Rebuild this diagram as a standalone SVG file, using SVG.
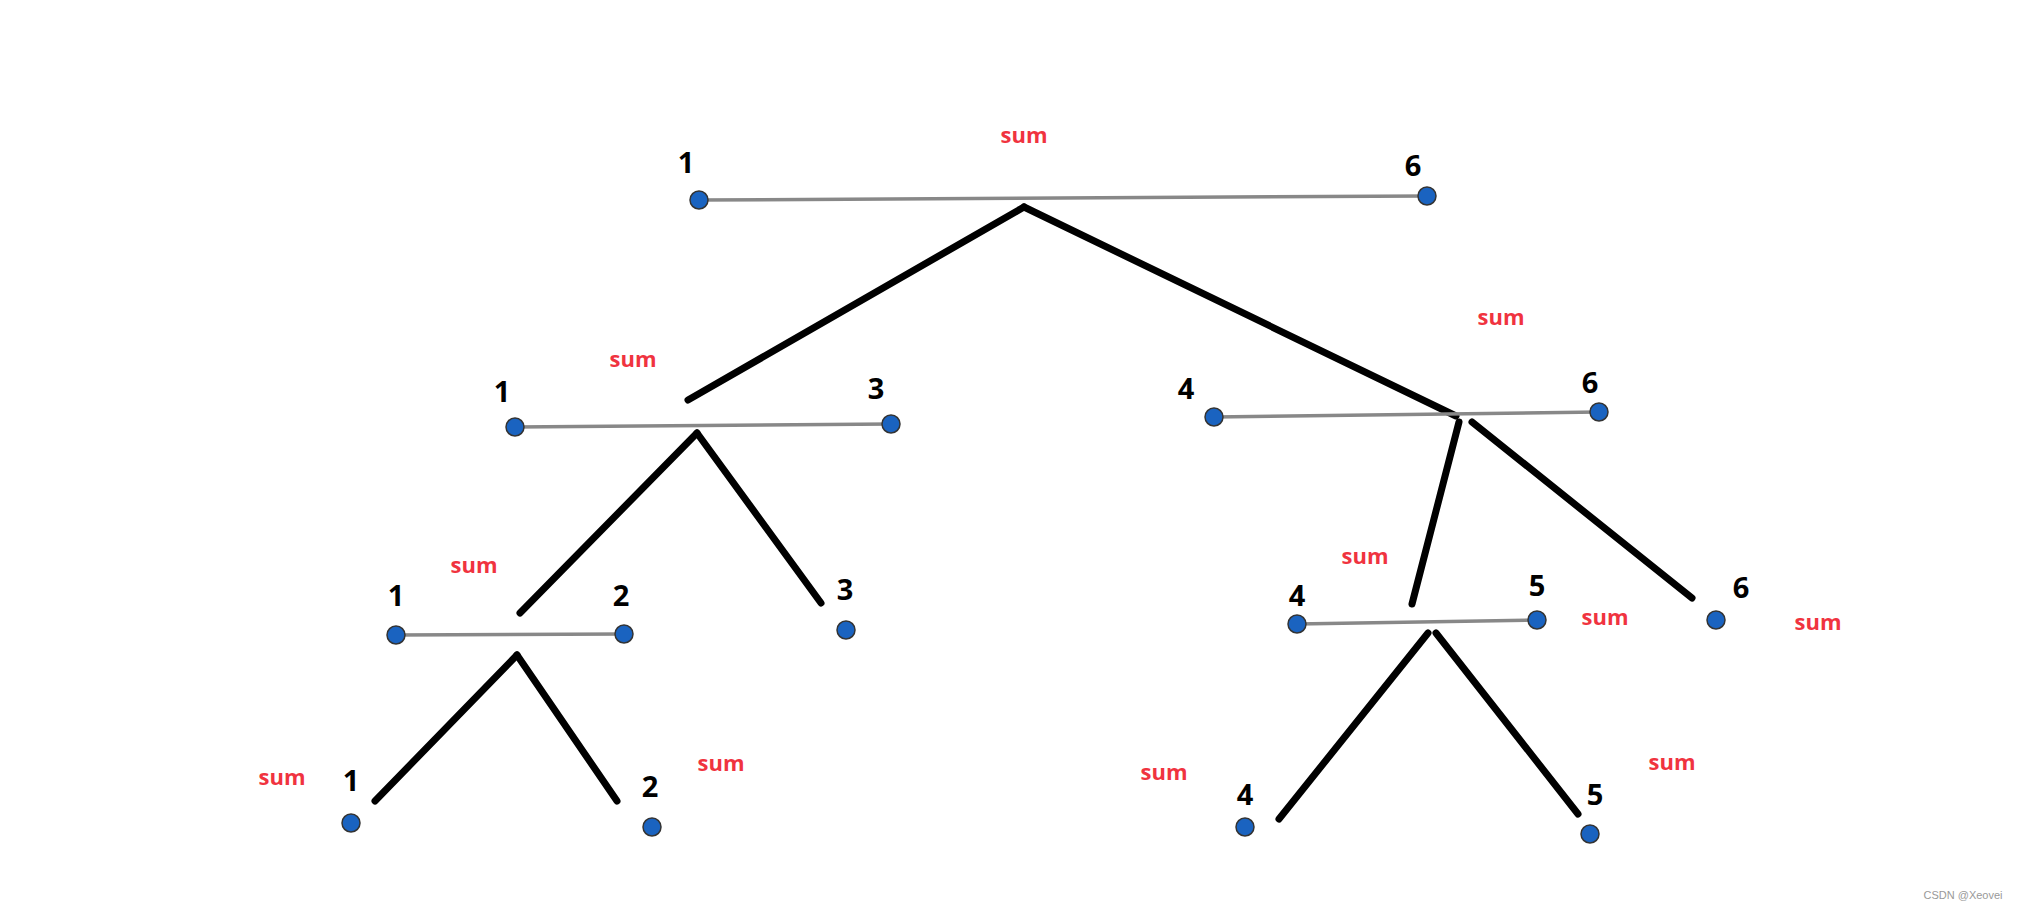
<svg xmlns="http://www.w3.org/2000/svg" width="2025" height="911" viewBox="0 0 2025 911">
<style>
.n{font-family:"Open Sans","Liberation Sans",sans-serif;font-weight:bold;font-size:29px;fill:#000;text-anchor:middle;dominant-baseline:central}
.s{font-family:"Open Sans","Liberation Sans",sans-serif;font-weight:bold;font-size:22px;fill:#f0333f;text-anchor:middle;dominant-baseline:central}
.d{fill:#1a63c0;stroke:#333;stroke-width:1.5}
.g{stroke:#888;stroke-width:3.5}
.b{stroke:#000;stroke-width:7;stroke-linecap:round}
</style>
<rect width="2025" height="911" fill="#fff"/>
<g id="connectors">
<line class="b" x1="1024" y1="207" x2="688" y2="400"/>
<line class="b" x1="1024" y1="207" x2="1456" y2="416"/>
<line class="b" x1="697" y1="433" x2="520" y2="613"/>
<line class="b" x1="697" y1="433" x2="821" y2="603"/>
<line class="b" x1="1459" y1="422" x2="1412" y2="604"/>
<line class="b" x1="1472" y1="422" x2="1692" y2="598"/>
<line class="b" x1="517" y1="655" x2="375" y2="801"/>
<line class="b" x1="517" y1="655" x2="617" y2="801"/>
<line class="b" x1="1428" y1="633" x2="1279" y2="819"/>
<line class="b" x1="1436" y1="633" x2="1578" y2="814"/>
</g>
<g id="n16"><line class="g" x1="699" y1="200" x2="1427" y2="196"/><circle class="d" cx="699" cy="200" r="9"/><circle class="d" cx="1427" cy="196" r="9"/><text class="n" x="686" y="161">1</text><text class="n" x="1413" y="164">6</text><text class="s" x="1024" y="134">sum</text></g>
<g id="n13"><line class="g" x1="515" y1="427" x2="891" y2="424"/><circle class="d" cx="515" cy="427" r="9"/><circle class="d" cx="891" cy="424" r="9"/><text class="n" x="502" y="390">1</text><text class="n" x="876" y="387">3</text><text class="s" x="633" y="358">sum</text></g>
<g id="n46"><line class="g" x1="1214" y1="417" x2="1599" y2="412"/><circle class="d" cx="1214" cy="417" r="9"/><circle class="d" cx="1599" cy="412" r="9"/><text class="n" x="1186" y="387">4</text><text class="n" x="1590" y="381">6</text><text class="s" x="1501" y="316">sum</text></g>
<g id="n12"><line class="g" x1="396" y1="635" x2="624" y2="634"/><circle class="d" cx="396" cy="635" r="9"/><circle class="d" cx="624" cy="634" r="9"/><text class="n" x="396" y="594">1</text><text class="n" x="621" y="594">2</text><text class="s" x="474" y="564">sum</text></g>
<g id="n3"><circle class="d" cx="846" cy="630" r="9"/><text class="n" x="845" y="588">3</text></g>
<g id="n45"><line class="g" x1="1297" y1="624" x2="1537" y2="620"/><circle class="d" cx="1297" cy="624" r="9"/><circle class="d" cx="1537" cy="620" r="9"/><text class="n" x="1297" y="594">4</text><text class="n" x="1537" y="584">5</text><text class="s" x="1365" y="555">sum</text><text class="s" x="1605" y="616">sum</text></g>
<g id="n6"><circle class="d" cx="1716" cy="620" r="9"/><text class="n" x="1741" y="586">6</text><text class="s" x="1818" y="621">sum</text></g>
<g id="n1"><circle class="d" cx="351" cy="823" r="9"/><text class="n" x="351" y="779">1</text><text class="s" x="282" y="776">sum</text></g>
<g id="n2"><circle class="d" cx="652" cy="827" r="9"/><text class="n" x="650" y="785">2</text><text class="s" x="721" y="762">sum</text></g>
<g id="n4"><circle class="d" cx="1245" cy="827" r="9"/><text class="n" x="1245" y="793">4</text><text class="s" x="1164" y="771">sum</text></g>
<g id="n5"><circle class="d" cx="1590" cy="834" r="9"/><text class="n" x="1595" y="793">5</text><text class="s" x="1672" y="761">sum</text></g>
<text x="1963" y="895" font-family="Liberation Sans,sans-serif" font-size="11" fill="#999" text-anchor="middle" dominant-baseline="central">CSDN @Xeovei</text>
</svg>
